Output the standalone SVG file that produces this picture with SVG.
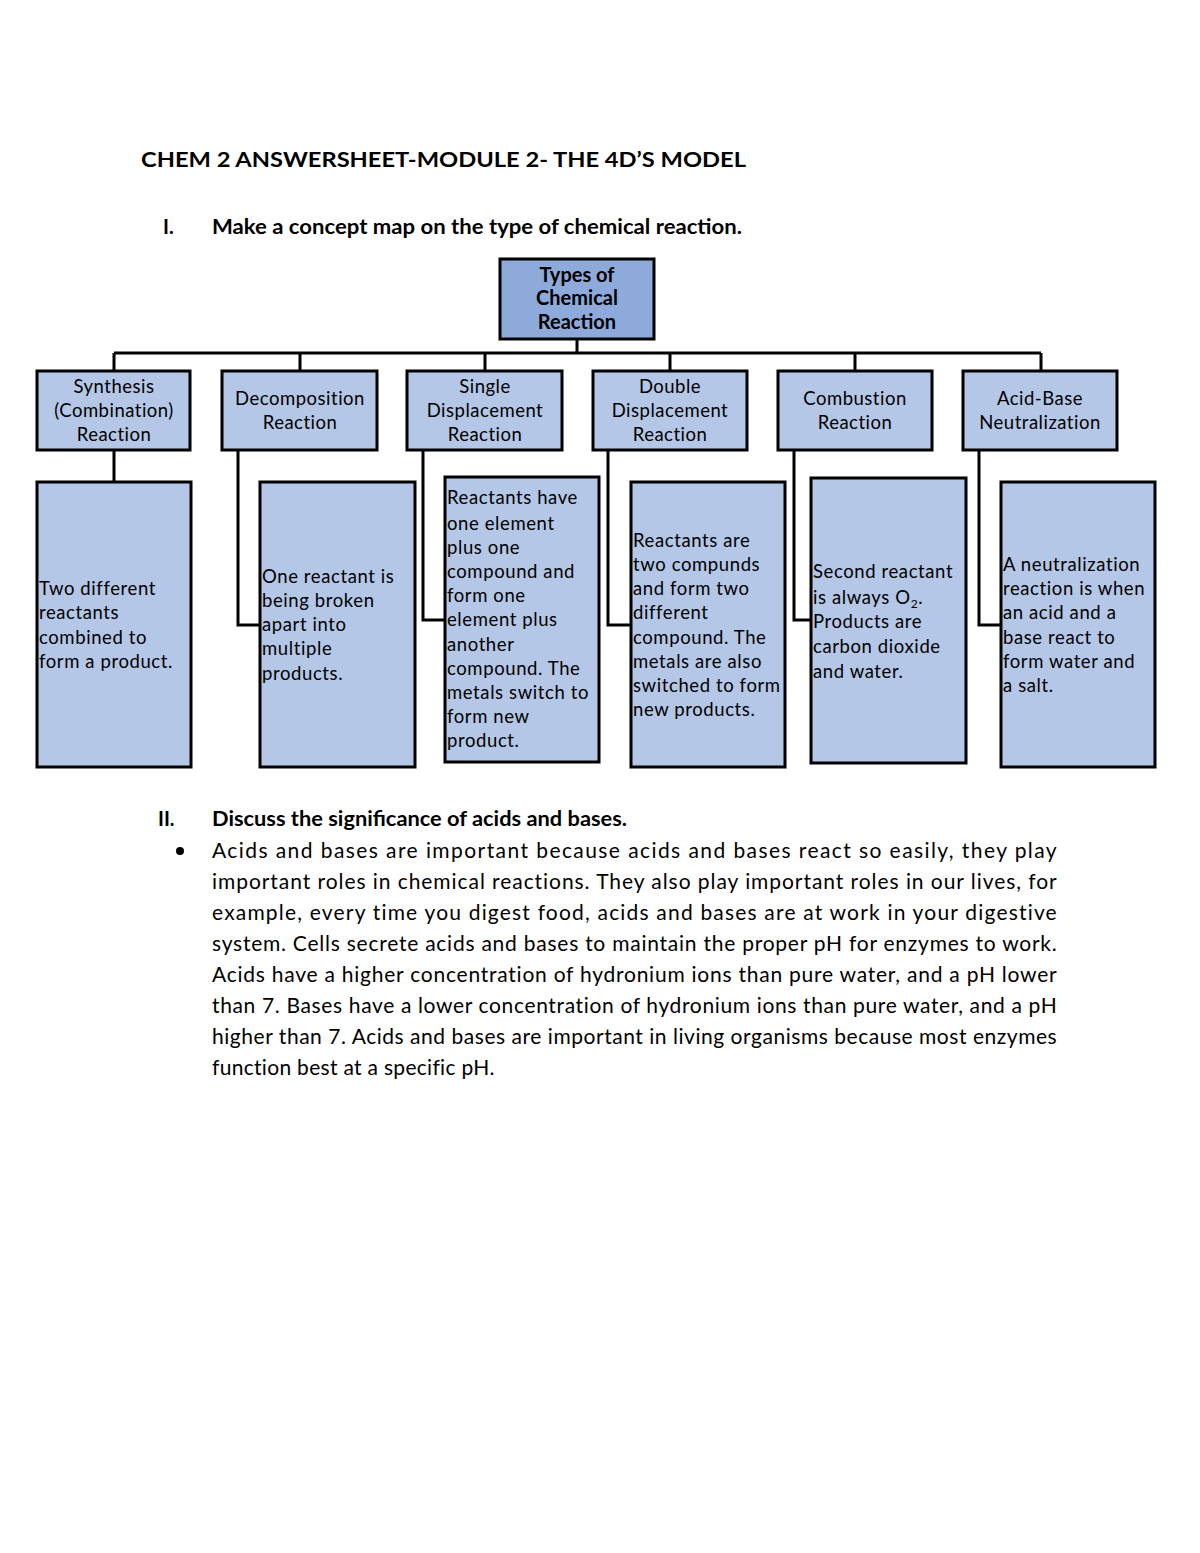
<svg xmlns="http://www.w3.org/2000/svg" width="1200" height="1553" viewBox="0 0 1200 1553">
<style>
text{font-family:Lato,"Open Sans","Liberation Sans",sans-serif;fill:#000}
.h{font-size:20px;font-weight:bold}
.p{font-size:21px;letter-spacing:0.3px}
.root rect{fill:#8eaadb;stroke:#000;stroke-width:3}
.n rect{fill:#b4c7e7;stroke:#000;stroke-width:3}
.root text{font-size:20px;font-weight:bold;text-anchor:middle}
.l2 text{font-size:18.5px;letter-spacing:0.5px;text-anchor:middle}
.l3 text{font-size:18.5px;letter-spacing:0.6px}
.c{fill:none;stroke:#000;stroke-width:3}
</style>
<rect width="1200" height="1553" fill="#fff"/>
<text class="h" x="141" y="167" textLength="605" lengthAdjust="spacingAndGlyphs">CHEM 2 ANSWERSHEET-MODULE 2- THE 4D’S MODEL</text>
<text class="h" x="163" y="234">I.</text>
<text class="h" x="212" y="234" textLength="530" lengthAdjust="spacingAndGlyphs">Make a concept map on the type of chemical reaction.</text>

<g id="connectors" class="c">
<path d="M577 339V353M114 353H1041M114 353V371M300 353V371M485 353V371M670 353V371M855 353V371M1041 353V371"/>
<path d="M114 450V482"/>
<path d="M238 450V625H260"/>
<path d="M423 450V620H445"/>
<path d="M608 450V625H631"/>
<path d="M794 450V620H811"/>
<path d="M979 450V625H1001"/>
</g>

<g id="root" class="root"><rect x="500" y="259" width="154" height="80"/>
<text x="577" y="282">Types of</text><text x="577" y="305">Chemical</text><text x="577" y="329">Reaction</text></g>

<g id="synthesis" class="n l2"><rect x="37" y="371" width="153" height="79"/>
<text x="114" y="393">Synthesis</text><text x="114" y="417">(Combination)</text><text x="114" y="441">Reaction</text></g>
<g id="decomposition" class="n l2"><rect x="222" y="371" width="155" height="79"/>
<text x="300" y="405">Decomposition</text><text x="300" y="429">Reaction</text></g>
<g id="single" class="n l2"><rect x="407" y="371" width="155" height="79"/>
<text x="485" y="393">Single</text><text x="485" y="417">Displacement</text><text x="485" y="441">Reaction</text></g>
<g id="double" class="n l2"><rect x="593" y="371" width="154" height="79"/>
<text x="670" y="393">Double</text><text x="670" y="417">Displacement</text><text x="670" y="441">Reaction</text></g>
<g id="combustion" class="n l2"><rect x="778" y="371" width="154" height="79"/>
<text x="855" y="405">Combustion</text><text x="855" y="429">Reaction</text></g>
<g id="acidbase" class="n l2"><rect x="963" y="371" width="154" height="79"/>
<text x="1040" y="405">Acid-Base</text><text x="1040" y="429">Neutralization</text></g>

<g id="synthesis-desc" class="n l3"><rect x="37" y="482" width="154" height="285"/>
<text x="39" y="595">Two different</text><text x="39" y="619">reactants</text><text x="39" y="644">combined to</text><text x="39" y="668">form a product.</text></g>
<g id="decomposition-desc" class="n l3"><rect x="260" y="482" width="155" height="285"/>
<text x="262" y="583">One reactant is</text><text x="262" y="607">being broken</text><text x="262" y="631">apart into</text><text x="262" y="655">multiple</text><text x="262" y="680">products.</text></g>
<g id="single-desc" class="n l3"><rect x="445" y="477" width="154" height="285"/>
<text x="447" y="504">Reactants have</text><text x="447" y="530">one element</text><text x="447" y="554">plus one</text><text x="447" y="578">compound and</text><text x="447" y="602">form one</text><text x="447" y="626">element plus</text><text x="447" y="651">another</text><text x="447" y="675">compound. The</text><text x="447" y="699">metals switch to</text><text x="447" y="723">form new</text><text x="447" y="747">product.</text></g>
<g id="double-desc" class="n l3"><rect x="631" y="482" width="154" height="285"/>
<text x="633" y="547">Reactants are</text><text x="633" y="571">two compunds</text><text x="633" y="595">and form two</text><text x="633" y="619">different</text><text x="633" y="644">compound. The</text><text x="633" y="668">metals are also</text><text x="633" y="692">switched to form</text><text x="633" y="716">new products.</text></g>
<g id="combustion-desc" class="n l3"><rect x="811" y="478" width="155" height="285"/>
<text x="813" y="578">Second reactant</text><text x="813" y="604">is always O<tspan font-size="12" dy="4">2</tspan><tspan dy="-4">.</tspan></text><text x="813" y="628">Products are</text><text x="813" y="653">carbon dioxide</text><text x="813" y="678">and water.</text></g>
<g id="acidbase-desc" class="n l3"><rect x="1001" y="482" width="154" height="285"/>
<text x="1003" y="571">A neutralization</text><text x="1003" y="595">reaction is when</text><text x="1003" y="619">an acid and a</text><text x="1003" y="644">base react to</text><text x="1003" y="668">form water and</text><text x="1003" y="692">a salt.</text></g>

<text class="h" x="158" y="826">II.</text>
<text class="h" x="212" y="826" textLength="415" lengthAdjust="spacingAndGlyphs">Discuss the significance of acids and bases.</text>
<circle cx="180" cy="851" r="4" fill="#000"/>
<g class="p">
<text x="212" y="858" textLength="845" lengthAdjust="spacing">Acids and bases are important because acids and bases react so easily, they play</text>
<text x="212" y="889" textLength="845" lengthAdjust="spacing">important roles in chemical reactions. They also play important roles in our lives, for</text>
<text x="212" y="920" textLength="845" lengthAdjust="spacing">example, every time you digest food, acids and bases are at work in your digestive</text>
<text x="212" y="951" textLength="845" lengthAdjust="spacing">system. Cells secrete acids and bases to maintain the proper pH for enzymes to work.</text>
<text x="212" y="982" textLength="845" lengthAdjust="spacing">Acids have a higher concentration of hydronium ions than pure water, and a pH lower</text>
<text x="212" y="1013" textLength="845" lengthAdjust="spacing">than 7. Bases have a lower concentration of hydronium ions than pure water, and a pH</text>
<text x="212" y="1044" textLength="845" lengthAdjust="spacing">higher than 7. Acids and bases are important in living organisms because most enzymes</text>
<text x="212" y="1075">function best at a specific pH.</text>
</g>
</svg>
